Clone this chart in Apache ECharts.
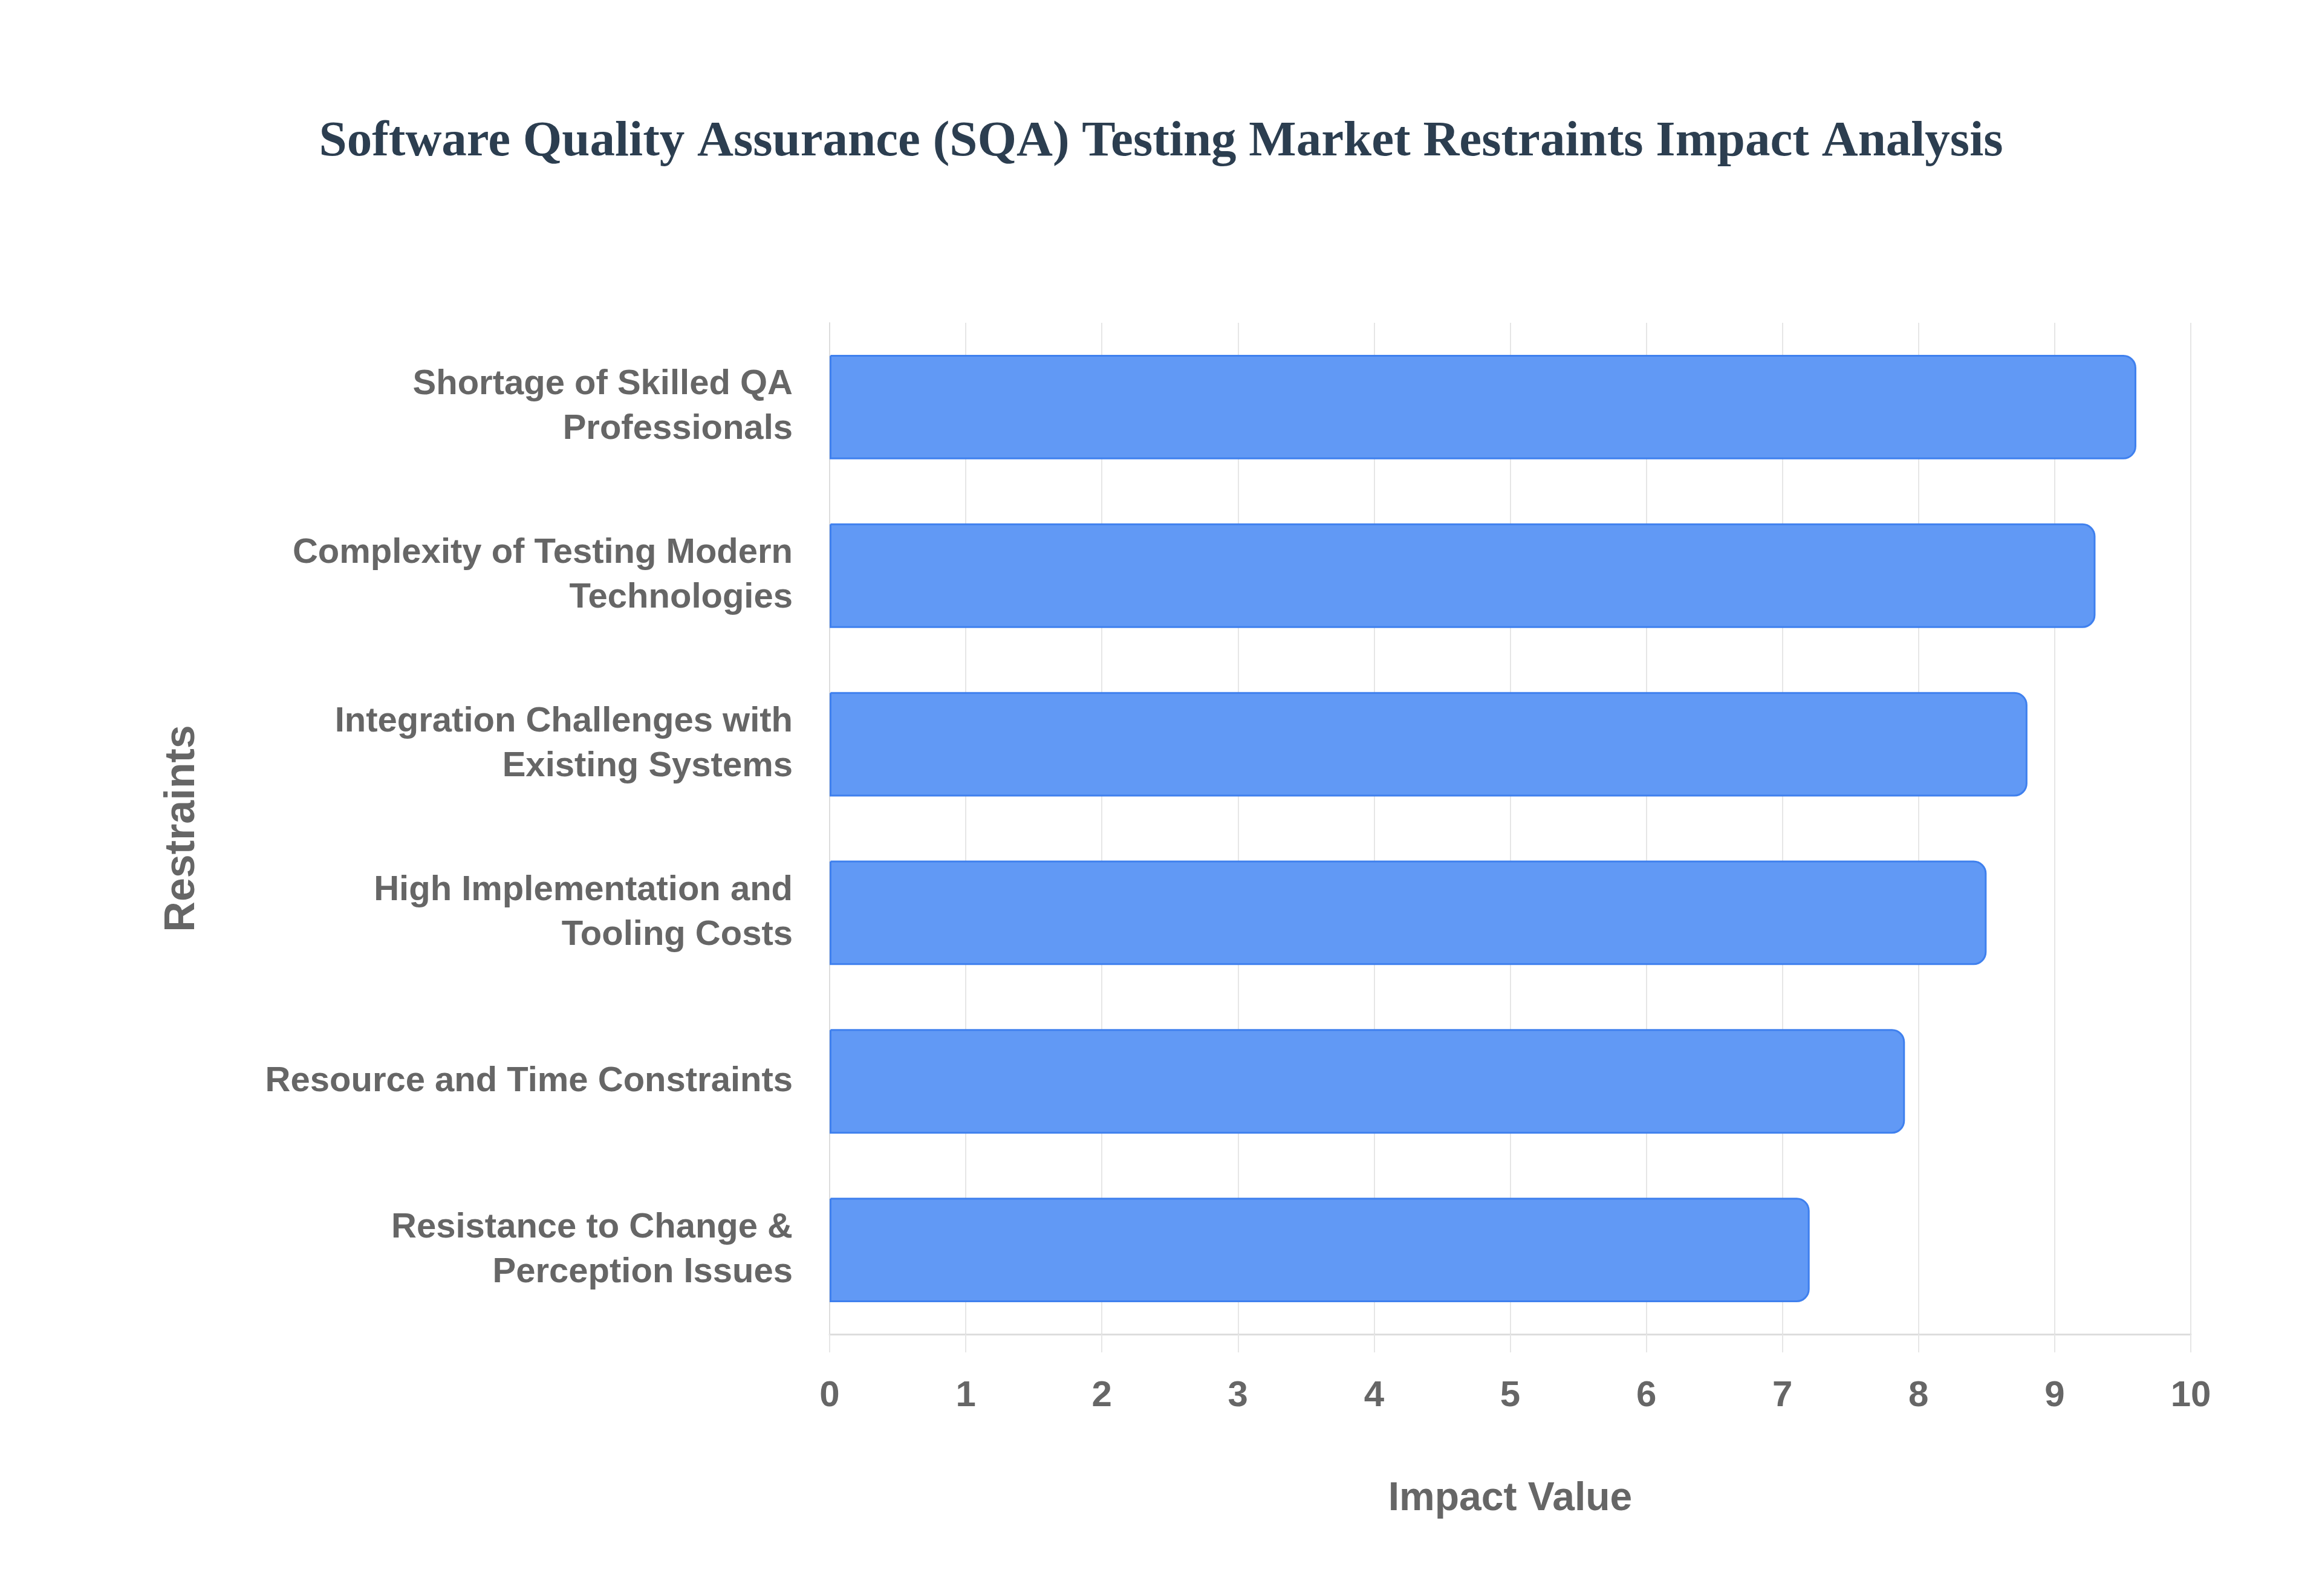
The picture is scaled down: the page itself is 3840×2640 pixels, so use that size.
<!DOCTYPE html>
<html>
<head>
<meta charset="utf-8">
<title>SQA Testing Market Restraints</title>
<script src="https://cdn.jsdelivr.net/npm/echarts@6/dist/echarts.min.js"></script>
<style>
    html, body { margin: 0; padding: 0; background: #ffffff; }
    #chart { width: 3840px; height: 2640px; }
</style>
</head>
<body>
<div id="chart"></div>
<script>
// restraint names, top to bottom
const restraints = [
    'Shortage of Skilled QA\nProfessionals',
    'Complexity of Testing Modern\nTechnologies',
    'Integration Challenges with\nExisting Systems',
    'High Implementation and\nTooling Costs',
    'Resource and Time Constraints',
    'Resistance to Change &\nPerception Issues'
];
const impactValues = [9.6, 9.3, 8.8, 8.5, 7.9, 7.2];
const xTicks = { min: 0, max: 10, interval: 1 };

const chart = echarts.init(document.getElementById('chart'));

const labelGray = '#666666';
const sans = '"Liberation Sans", Arial, sans-serif';

const option = {
    backgroundColor: '#ffffff',
    title: {
        text: 'Software Quality Assurance (SQA) Testing Market Restraints Impact Analysis',
        left: 'center',
        top: 189,
        textStyle: {
            fontFamily: '"Liberation Serif", "Times New Roman", serif',
            fontWeight: 'bold',
            fontSize: 83,
            color: '#2c3e50'
        }
    },
    grid: {
        left: 1372,
        right: 217,
        top: 534,
        bottom: 433,
        containLabel: false
    },
    xAxis: {
        type: 'value',
        min: xTicks.min,
        max: xTicks.max,
        interval: xTicks.interval,
        name: 'Impact Value',
        nameLocation: 'middle',
        nameGap: 240,
        nameTextStyle: {
            fontFamily: sans,
            fontWeight: 'bold',
            fontSize: 66,
            color: labelGray
        },
        axisLine: {
            show: true,
            lineStyle: { color: '#dddddd', width: 3 }
        },
        axisTick: {
            show: true,
            length: 30,
            lineStyle: { color: '#e6e6e6', width: 2 }
        },
        axisLabel: {
            margin: 72,
            fontFamily: sans,
            fontWeight: 'bold',
            fontSize: 60,
            color: labelGray
        },
        splitLine: {
            show: true,
            lineStyle: { color: '#e6e6e6', width: 2 }
        }
    },
    yAxis: {
        type: 'category',
        data: restraints,
        inverse: true,
        name: 'Restraints',
        nameLocation: 'middle',
        nameGap: 1035,
        nameTextStyle: {
            fontFamily: sans,
            fontWeight: 'bold',
            fontSize: 70,
            color: labelGray
        },
        axisLine: {
            show: true,
            lineStyle: { color: '#dddddd', width: 2 }
        },
        axisTick: { show: false },
        splitLine: { show: false },
        axisLabel: {
            margin: 61,
            fontFamily: sans,
            fontWeight: 'bold',
            fontSize: 58,
            lineHeight: 74,
            color: labelGray,
            align: 'right'
        }
    },
    series: [
        {
            name: 'Impact Value',
            type: 'bar',
            data: impactValues,
            barCategoryGap: '38%',
            itemStyle: {
                color: '#6199f5',
                borderColor: '#3f80ee',
                borderWidth: 3,
                borderRadius: [0, 20, 20, 0]
            }
        }
    ]
};

option && chart.setOption(option);
</script>
</body>
</html>
